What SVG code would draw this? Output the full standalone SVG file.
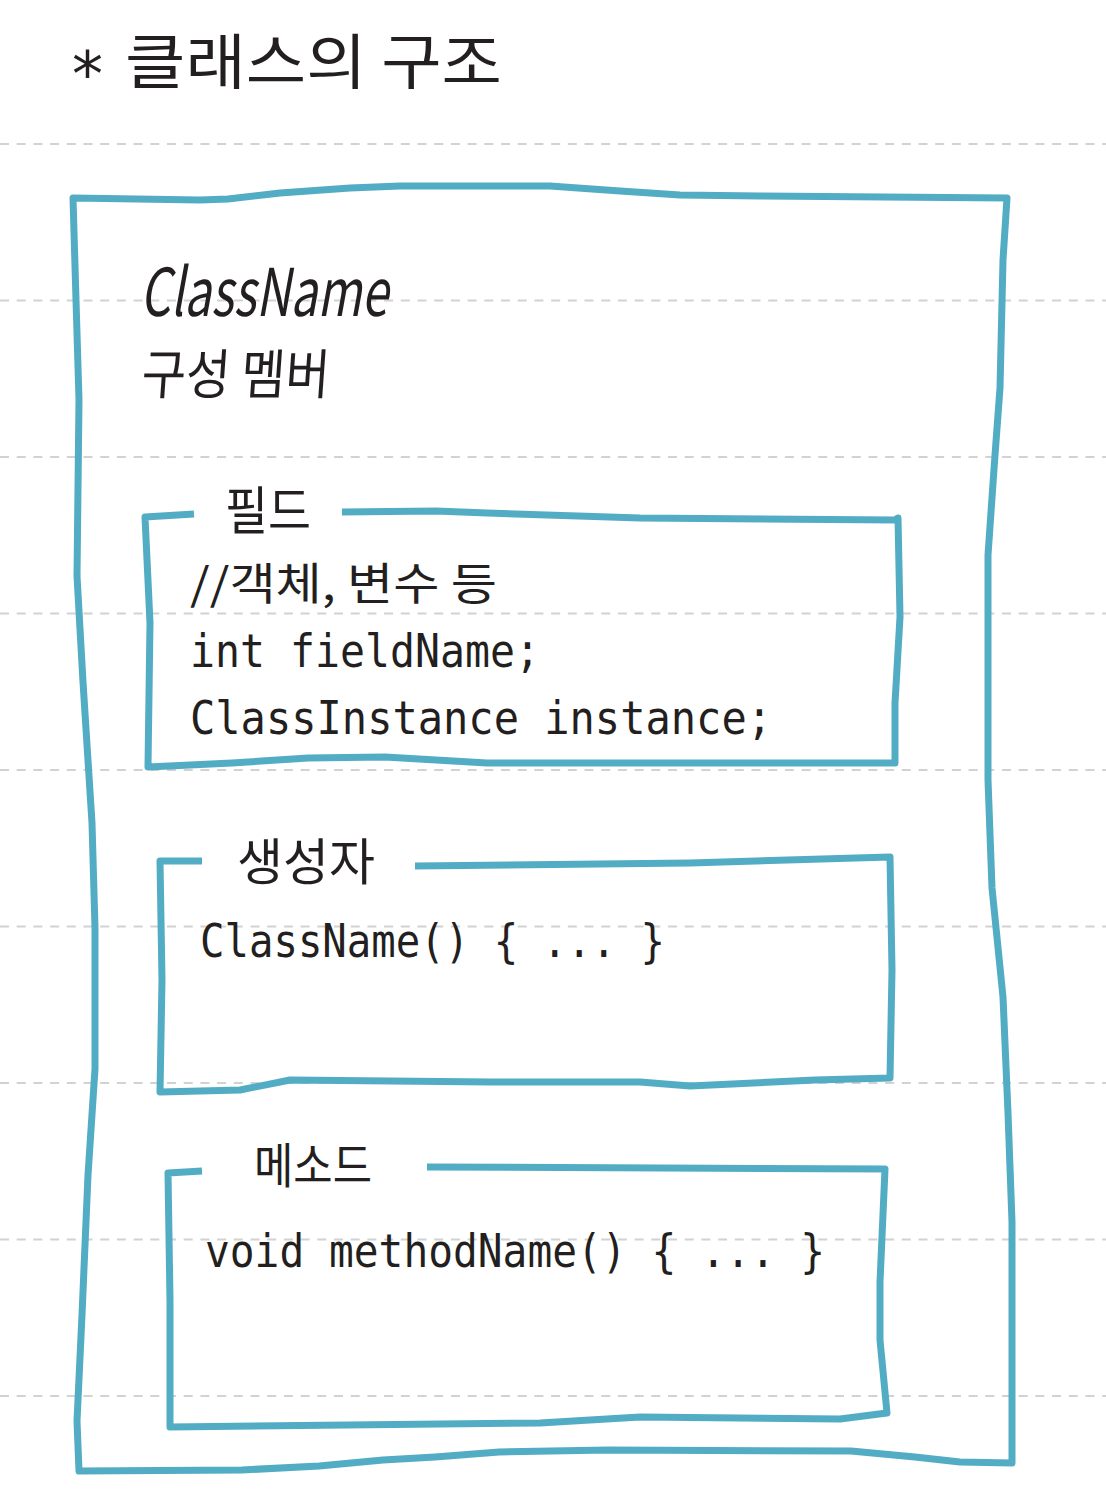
<svg xmlns="http://www.w3.org/2000/svg" width="1106" height="1510" viewBox="0 0 1106 1510">
<style>
.rule{stroke:#d2d2d2;stroke-width:2;stroke-dasharray:9 7.7;fill:none}
.box{fill:none;stroke:#52adc4;stroke-width:7;stroke-linejoin:round;stroke-linecap:butt}
.hand{font-family:"Noto Sans CJK KR","Noto Sans",sans-serif;font-weight:400;fill:#231f20}
.code{font-family:"DejaVu Sans Mono","Liberation Mono",monospace;fill:#231f20}
.kor{font-family:"Noto Sans CJK KR",sans-serif;fill:#231f20}
</style>
<rect width="1106" height="1510" fill="#ffffff"/>
<g id="ruled-lines">
<line class="rule" x1="0" y1="144" x2="1106" y2="144"/>
<line class="rule" x1="0" y1="300.5" x2="1106" y2="300.5"/>
<line class="rule" x1="0" y1="457" x2="1106" y2="457"/>
<line class="rule" x1="0" y1="613.5" x2="1106" y2="613.5"/>
<line class="rule" x1="0" y1="770" x2="1106" y2="770"/>
<line class="rule" x1="0" y1="926.5" x2="1106" y2="926.5"/>
<line class="rule" x1="0" y1="1083" x2="1106" y2="1083"/>
<line class="rule" x1="0" y1="1239.5" x2="1106" y2="1239.5"/>
<line class="rule" x1="0" y1="1396" x2="1106" y2="1396"/>
</g>
<g id="title">
<text x="72" y="96" font-family="'DejaVu Sans',sans-serif" font-size="62" fill="#231f20">*</text>
<text x="125" y="84" font-family="'Noto Sans CJK KR',sans-serif" font-weight="400" font-size="60" fill="#231f20" textLength="377" lengthAdjust="spacingAndGlyphs">클래스의 구조</text>
</g>
<g id="class-box">
<path class="box" d="M73,198 L200,200 L228,199 L280,193 L350,188 L400,186 L550,186 L620,191 L680,195 L760,196 L1007,198 L1003,260 L1000,388 L995,455 L988,555 L988,780 L992,888 L1003,997 L1008,1113 L1012,1222 L1012,1463 L960,1462 L915,1457 L851,1451 L608,1450 L499,1452 L435,1457 L383,1460 L319,1466 L242,1470 L79,1471 L77,1421 L82,1315 L85,1245 L88,1175 L95,1069 L95,928 L92,823 L83,682 L77,576 L79,400 L76,300 Z"/>
<text class="hand" x="140" y="316" font-size="66" font-family="'Open Sans','Noto Sans',sans-serif" font-style="italic" textLength="248" lengthAdjust="spacingAndGlyphs">ClassName</text>
<text class="hand" x="140" y="394" font-size="54" textLength="188" lengthAdjust="spacingAndGlyphs" transform="skewX(-4) translate(28,0)">구성 멤버</text>
</g>
<g id="field-box">
<path class="box" d="M194,514 L145,517 L150,623 L148,767 L232,763 L308,758 L385,757 L487,763 L844,763 L895,763 L895,703 L900,617 L898,518 L895,520 L640,518 L487,513 L436,511 L342,512"/>
<text class="hand" x="225" y="530" font-size="52" textLength="86" lengthAdjust="spacingAndGlyphs">필드</text>
<text class="kor" x="190" y="600" font-size="44" textLength="307" lengthAdjust="spacingAndGlyphs">//객체, 변수 등</text>
<text class="code" x="190" y="667" font-size="46" textLength="350" lengthAdjust="spacingAndGlyphs">int fieldName;</text>
<text class="code" x="190" y="734" font-size="46" textLength="582" lengthAdjust="spacingAndGlyphs">ClassInstance instance;</text>
</g>
<g id="constructor-box">
<path class="box" d="M202,861 L160,861 L162,980 L160,1092 L240,1090 L290,1080 L490,1082 L640,1082 L690,1086 L815,1080 L890,1078 L892,970 L890,857 L690,863 L415,866"/>
<text class="hand" x="237" y="880" font-size="50" textLength="138" lengthAdjust="spacingAndGlyphs">생성자</text>
<text class="code" x="200" y="957" font-size="46" textLength="465" lengthAdjust="spacingAndGlyphs">ClassName() { ... }</text>
</g>
<g id="method-box">
<path class="box" d="M202,1171 L168,1173 L170,1300 L170,1427 L540,1423 L640,1417 L840,1419 L887,1413 L880,1340 L880,1282 L885,1169 L427,1167"/>
<text class="hand" x="254" y="1183" font-size="48" textLength="118" lengthAdjust="spacingAndGlyphs">메소드</text>
<text class="code" x="205" y="1267" font-size="46" textLength="620" lengthAdjust="spacingAndGlyphs">void methodName() { ... }</text>
</g>
<g id="connectors"/>
</svg>
